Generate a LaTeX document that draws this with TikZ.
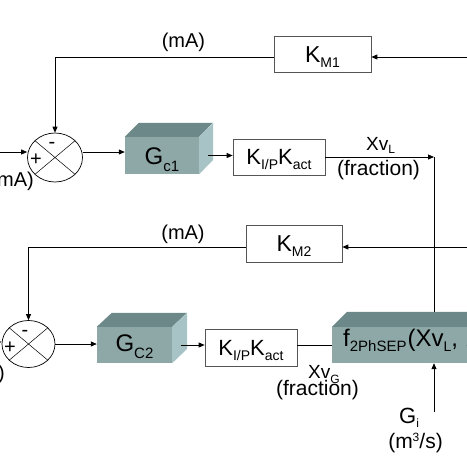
\documentclass[tikz,border=0pt]{standalone}
\usepackage{fontspec}
\setmainfont{Liberation Sans}
\usetikzlibrary{arrows.meta,shapes.geometric,calc}
\definecolor{frontc}{HTML}{8EA8A8}
\definecolor{topc}{HTML}{6C8888}
\definecolor{sidec}{HTML}{A8C3C5}
\definecolor{edgec}{HTML}{555555}
\newcommand\fs[1]{\fontsize{#1pt}{#1pt}\selectfont}
\newcommand\lo[3]{\raisebox{-#3pt}{\fs{#1}#2}}
\begin{document}
\begin{tikzpicture}[x=1pt,y=-1pt,
  line/.style={line width=0.8pt},
  arr/.style={line width=0.8pt,-{Triangle[length=6pt,width=5pt]}},
  blk/.style={draw=edgec,line width=0.7pt,fill=white,inner sep=0pt,font=\fs{23},text height=16.4pt,text depth=0pt},
  box3d/.style={fill=frontc,inner sep=0pt,font=\fs{24},text height=17.2pt,text depth=0pt},
  sumj/.style={ellipse,draw,line width=0.7pt,inner sep=0pt},
  sgn/.style={font=\fs{20},inner sep=0pt},
  lbl/.style={font=\fs{21},inner sep=0pt}]
\useasboundingbox (0,0) rectangle (467,467);

% ---- upper loop ----
\node[blk,minimum width=97pt,minimum height=36pt] (km1) at (322.5,54) {K\lo{14}{M1}{5}};
\node[sumj,minimum width=55pt,minimum height=49pt] (s1) at (55,157.5) {};
\draw[line width=0.5pt] (s1.140) -- (s1.-40) (s1.40) -- (s1.-140);
\node[sgn] (p1) at (36,160) {+};
\node[sgn] (m1) at (52,145) {-};

\node[box3d,minimum width=74pt,minimum height=37pt] (gc1) at (162,155.5) {G\lo{15}{c1}{7}};
\fill[topc] (gc1.north west) -- ++(14,-14) -- ++(74,0) -- (gc1.north east) -- cycle;
\fill[sidec] (gc1.north east) -- ++(14,-14) -- ++(0,37) -- (gc1.south east) -- cycle;

\node[blk,font=\fs{22},text height=15.7pt,minimum width=92pt,minimum height=36pt] (kip1) at (279,157) {K\lo{14}{I/P}{5}K\lo{14}{act}{5}};

\coordinate (r1) at (480,57);
\coordinate (in1) at (-10,152);
\coordinate (c1) at (434,157);
\coordinate (c2) at (434,321);

\draw[arr] (r1) -- (r1 -| km1.east);
\draw[arr] (km1.west |- r1) -| (s1.north);
\draw[arr] (in1) -- (in1 -| s1.west);
\draw[arr] (s1.east |- in1) -- (gc1.west |- in1);
\draw[arr] ([xshift=9pt]gc1.east) -- (gc1.east -| kip1.west);
\draw[arr] (kip1.east |- c1) -- (c1);
\draw[arr] (c1) -- (c2);

\node[lbl,font=\fs{20},anchor=base] (ma1) at (183.5,47) {(mA)};
\node[lbl,font=\fs{20},anchor=base east] (ma1b) at (34,186) {(mA)};
\node[lbl,font=\fs{19},anchor=base west] (xvl) at (366,150) {Xv\lo{12}{L}{3}};
\node[lbl,anchor=base] (fr1) at (378.5,175.5) {(fraction)};

% ---- lower loop ----
\node[blk,minimum width=96pt,minimum height=37pt] (km2) at (294,243.5) {K\lo{14}{M2}{5}};
\node[sumj,minimum width=53pt,minimum height=47pt] (s2) at (28.5,344) {};
\draw[line width=0.5pt] (s2.140) -- (s2.-40) (s2.40) -- (s2.-140);
\node[sgn] (p2) at (10,348) {+};
\node[sgn] (m2) at (25,333) {-};

\node[box3d,minimum width=75pt,minimum height=36pt,text depth=5pt] (gc2) at (134.5,345) {G\lo{15}{C2}{7}};
\fill[topc] (gc2.north west) -- ++(15,-14) -- ++(75,0) -- (gc2.north east) -- cycle;
\fill[sidec] (gc2.north east) -- ++(15,-14) -- ++(0,36) -- (gc2.south east) -- cycle;

\node[blk,font=\fs{22},text height=15.7pt,minimum width=92pt,minimum height=37pt] (kip2) at (251,347.5) {K\lo{14}{I/P}{5}K\lo{14}{act}{5}};

\node[box3d,font=\fs{24},anchor=west,minimum height=36pt,inner xsep=11pt,text width=300pt,align=left,text height=17.2pt,text depth=14pt] (fb) at (332,345)
  {f\lo{15}{2PhSEP}{5}\kern1pt(Xv\lo{14}{L}{5}, Xv\lo{14}{G}{5}, G\lo{14}{i}{5})};
\fill[topc] (fb.north west) -- ++(15,-15) -- ([shift={(15,-15)}]fb.north east) -- (fb.north east) -- cycle;

\coordinate (r2) at (480,247);
\coordinate (in2) at (-10,342);
\coordinate (gi) at (434,412);

\draw[arr] (r2) -- (r2 -| km2.east);
\draw[arr] (km2.west |- r2) -| (s2.north);
\draw[arr] (in2) -- (in2 -| s2.west);
\draw[arr] (s2.east) -- (s2.east -| gc2.west);
\draw[arr] ([xshift=9pt]gc2.east) -- (gc2.east -| kip2.west);
\draw[line] (fb.west -| kip2.east) -- (fb.west);
\draw[arr] (gi) -- (gi |- fb.south);

\node[lbl,font=\fs{20},anchor=base] (ma2) at (183,239) {(mA)};
\node[lbl,font=\fs{20},anchor=base east] (ma2b) at (5,379) {(mA)};
\node[lbl,font=\fs{19},anchor=base west] (xvg) at (308,378) {Xv\lo{12}{G}{5}};
\node[lbl,anchor=base] (fr2) at (317.5,395.5) {(fraction)};
\node[lbl,font=\fs{22},anchor=base west] (gil) at (399,423) {G\lo{12}{i}{4}};
\node[lbl,anchor=base] (gu) at (415.5,448.5) {(m\raisebox{7pt}{\fs{12}3}/s)};
\end{tikzpicture}
\end{document}
